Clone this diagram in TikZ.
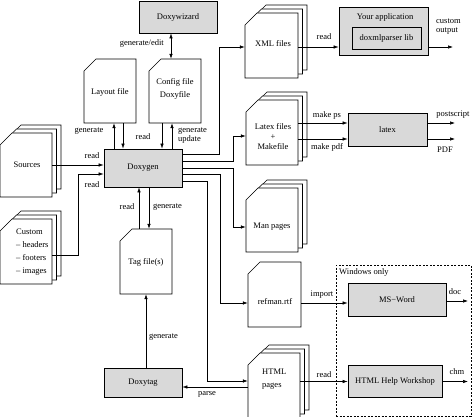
\documentclass[tikz,border=0pt]{standalone}
\usepackage{fontspec}
\setmainfont{Liberation Serif}
\usetikzlibrary{arrows.meta,fit,calc}
\definecolor{boxgray}{RGB}{217,217,217}
\newcommand{\pg}[4]{\filldraw[pageline] ({#1+12},{#2}) -- ({#3},{#2}) -- ({#3},{#4}) -- ({#1},{#4}) -- ({#1},{#2+12}) -- cycle;}
\newcommand{\stk}[4]{\pg{#1+9}{#2-8}{#3+9}{#4-8}\pg{#1+4.5}{#2-4}{#3+4.5}{#4-4}\pg{#1}{#2}{#3}{#4}}
\begin{document}
\begin{tikzpicture}[x=1pt,y=-1pt,
  every node/.style={font=\fontsize{8.5}{10}\selectfont},
  pageline/.style={draw=black, fill=white, line width=0.6pt},
  box/.style={draw=black, fill=boxgray, line width=0.7pt, inner sep=0pt},
  arr/.style={line width=0.6pt, -{Latex[length=5pt,width=3.5pt]}},
  darr/.style={line width=0.6pt, {Latex[length=5pt,width=3.5pt]}-{Latex[length=5pt,width=3.5pt]}},
  lbl/.style={inner sep=0pt},
  pagefit/.style={inner sep=0pt, draw=none}]
\useasboundingbox (0,0) rectangle (474,417);

% ---------- pages ----------
\pg{84}{59}{136}{123}
\node[pagefit, fit={(84,59) (136,123)}] (layout) {};
\pg{149}{59}{201}{123}
\node[pagefit, fit={(149,59) (201,123)}] (config) {};
\pg{120}{229}{172}{294}
\node[pagefit, fit={(120,229) (172,294)}] (tag) {};
\pg{248}{262}{301}{327}
\node[pagefit, fit={(248,262) (301,327)}] (refman) {};
\stk{0}{133}{52}{197}
\node[pagefit, fit={(0,133) (52,197)}] (src) {};
\stk{0}{219}{52}{284}
\node[pagefit, fit={(0,219) (52,284)}] (cust) {};
\stk{245}{13}{298}{78}
\node[pagefit, fit={(245,13) (298,78)}] (xml) {};
\stk{246}{100}{298}{165}
\node[pagefit, fit={(246,100) (298,165)}] (latexf) {};
\stk{246}{188}{298}{252}
\node[pagefit, fit={(246,188) (298,252)}] (man) {};
\stk{248}{353}{300}{418}
\node[pagefit, fit={(248,353) (300,418)}] (html) {};

% page texts
\node[lbl] (tlayout) at (110,92) {Layout file};
\node[lbl, align=center, font=\fontsize{8.5}{13}\selectfont] (tconfig) at (175,88.5) {Config file\\Doxyfile};
\node[lbl] (ttag) at (146,262) {Tag file(s)};
\node[lbl] (trtf) at (275,302) {refman.rtf};
\node[lbl] (tsrc) at (27,165) {Sources};
\node[lbl, anchor=west, align=left, font=\fontsize{8.5}{13}\selectfont] (tcust) at (16,252.5) {Custom\\– headers\\– footers\\– images};
\node[lbl] (txml) at (273,44) {XML files};
\node[lbl, align=center] (tlatex) at (273,136.5) {Latex files\\+\\Makefile};
\node[lbl] (tman) at (272,227) {Man pages};
\node[lbl, anchor=west, align=left, font=\fontsize{8.5}{13}\selectfont] (thtml) at (262,379.5) {HTML\\pages};

% ---------- windows only ----------
\node[draw, dash pattern=on 2pt off 1.5pt, line width=0.6pt, inner sep=0pt, fit={(336,265) (471,416)}] (win) {};
\node[lbl, anchor=west] (twin) at (339,272) {Windows only};

% ---------- boxes ----------
\node[box, minimum width=78pt, minimum height=32pt] (dw) at (178,17) {Doxywizard};
\node[box, minimum width=78pt, minimum height=38pt] (dox) at (143,168) {Doxygen};
\node[box, minimum width=78pt, minimum height=29pt] (dtag) at (143,382.5) {Doxytag};
\node[box, minimum width=89pt, minimum height=48pt] (app) at (383.5,31) {};
\node[lbl] (tapp) at (385,17) {Your application};
\node[box, minimum width=69pt, minimum height=22pt] (lib) at (386.5,38) {doxmlparser lib};
\node[box, minimum width=79pt, minimum height=33pt] (ltx) at (387.5,129.5) {latex};
\node[box, minimum width=98pt, minimum height=33pt] (word) at (397,299.5) {MS−Word};
\node[box, minimum width=94pt, minimum height=32pt] (hhw) at (395,381) {HTML Help Workshop};

% free ends
\coordinate (outc) at (453,47);
\coordinate (psc) at (455,123);
\coordinate (pdfc) at (455,139);
\coordinate (docc) at (468,301);
\coordinate (chmc) at (468,381.5);

% ---------- connectors ----------
\draw[darr] ([xshift=-7pt]dw.south) -- ([xshift=-4pt]config.north);
\draw[arr] ([xshift=-29pt]dox.north) -- ([xshift=4pt]layout.south);
\draw[arr] ([xshift=13pt]layout.south) -- ([xshift=-20pt]dox.north);
\draw[arr] ([xshift=-13pt]config.south) -- ([xshift=19pt]dox.north);
\draw[arr] ([xshift=29pt]dox.north) -- ([xshift=-3pt]config.south);
\draw[arr] (src.east) -- ([yshift=3pt]dox.west);
\draw[arr] ([yshift=-3.5pt]cust.east) -- ++(26,0) |- ([yshift=-6pt]dox.west);
\draw[arr] ([xshift=-7pt]tag.north) -- ([xshift=-4pt]dox.south);
\draw[arr] ([xshift=6pt]dox.south) -- ([xshift=3pt]tag.north);
\draw[arr] ([xshift=3pt]dtag.north) -- (tag.south);
\draw[arr] ([yshift=-1.5pt]html.west) -- ([yshift=-4.5pt]dtag.east);
\draw[arr] ([yshift=-6pt]dox.north east) -- ++(37,0) |- ([yshift=-1.5pt]xml.west);
\draw[arr] ([yshift=-13pt]dox.north east) -- ++(51,0) |- ([yshift=-3.5pt]latexf.west);
\draw[arr] ([yshift=-20pt]dox.north east) -- ++(51,0) |- ([yshift=-7pt]man.west);
\draw[arr] ([yshift=-26pt]dox.north east) -- ++(38,0) |- ([yshift=-8.5pt]refman.west);
\draw[arr] ([yshift=-33pt]dox.north east) -- ++(25,0) |- ([yshift=4.5pt]html.west);
\draw[arr] ([yshift=-1.5pt]xml.east) -- ([yshift=-16pt]app.west);
\draw[arr] ([yshift=-16pt]app.east) -- (outc);
\draw[arr] ([yshift=9.5pt]latexf.east) -- ([yshift=6.5pt]ltx.west);
\draw[arr] ([yshift=-6.5pt]latexf.east) -- ([yshift=-9.5pt]ltx.west);
\draw[arr] ([yshift=6.5pt]ltx.east) -- (psc);
\draw[arr] ([yshift=-9.5pt]ltx.east) -- (pdfc);
\draw[arr] ([yshift=-8.5pt]refman.east) -- ([yshift=-3.5pt]word.west);
\draw[arr] ([yshift=-1.5pt]word.east) -- (docc);
\draw[arr] ([yshift=4pt]html.east) -- ([yshift=-0.5pt]hhw.west);
\draw[arr] ([yshift=-0.5pt]hhw.east) -- (chmc);

% ---------- connector labels ----------
\node[lbl, anchor=east] (lgenedit) at (164,43) {generate/edit};
\node[lbl] (lgen1) at (89,131) {generate};
\node[lbl] (lread1) at (143,137) {read};
\node[lbl, anchor=west, align=left, font=\fontsize{8.5}{9.5}\selectfont] (lgenupd) at (178,135.5) {generate\\update};
\node[lbl] (lread2) at (92,156) {read};
\node[lbl] (lread3) at (92,185) {read};
\node[lbl] (lread4) at (127,207) {read};
\node[lbl] (lgen2) at (167.5,207) {generate};
\node[lbl] (lgen3) at (163.5,337) {generate};
\node[lbl] (lparse) at (207,394) {parse};
\node[lbl] (lread5) at (324,37) {read};
\node[lbl, anchor=west, align=left, font=\fontsize{8.5}{9.5}\selectfont] (lcustom) at (436,26.5) {custom\\output};
\node[lbl] (lmakeps) at (327,115) {make ps};
\node[lbl] (lmakepdf) at (327,147) {make pdf};
\node[lbl] (lps) at (453,115) {postscript};
\node[lbl] (lpdf) at (445,150) {PDF};
\node[lbl] (limport) at (322,295) {import};
\node[lbl] (ldoc) at (455,292) {doc};
\node[lbl] (lread6) at (324,375) {read};
\node[lbl] (lchm) at (457,372) {chm};
\end{tikzpicture}
\end{document}
